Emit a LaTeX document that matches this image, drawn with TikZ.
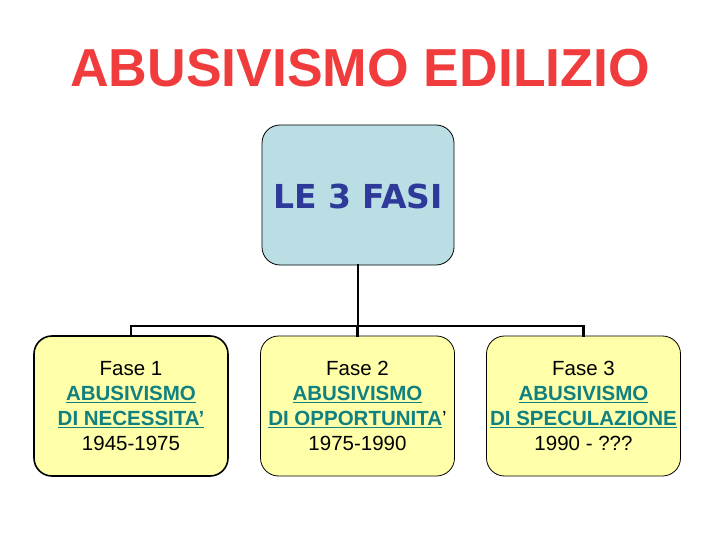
\documentclass[tikz,border=0pt]{standalone}
\usepackage{fontspec}
\setmainfont{Liberation Sans}
\newfontfamily\verdanalike{DejaVu Sans}
\definecolor{titlered}{RGB}{240,60,60}
\definecolor{topfill}{RGB}{186,222,228}
\definecolor{topblue}{RGB}{46,58,154}
\definecolor{boxyellow}{RGB}{255,255,170}
\definecolor{tealtxt}{RGB}{16,128,128}
\begin{document}
\begin{tikzpicture}[x=1pt,y=-1pt,
  topbox/.style={draw=black, line width=0.8pt, fill=topfill, rounded corners=18pt, minimum width=192pt, minimum height=140pt, inner sep=0pt},
  fasebox/.style={draw=black, line width=0.8pt, fill=boxyellow, rounded corners=18pt, minimum width=194pt, minimum height=140pt, inner sep=0pt, align=center, font=\fontsize{20.5}{25}\selectfont},
  conn/.style={line width=2.8pt, line cap=rect}]
\useasboundingbox (0,0) rectangle (720,540);
\node (title) at (360,68) {\fontsize{53.5}{60}\selectfont\bfseries\color{titlered}ABUSIVISMO EDILIZIO};
\node[topbox] (top) at (358,195) {};
\node (toptext) at (358,196) {\verdanalike\fontsize{33}{40}\selectfont\bfseries\color{topblue}LE 3 FASI};
\node[fasebox, line width=1.6pt] (f1) at (131,406) {Fase 1\\\textbf{\color{tealtxt}\underline{ABUSIVISMO}}\\\textbf{\color{tealtxt}\underline{DI NECESSITA’}}\\1945-1975};
\node[fasebox] (f2) at (357.5,406) {Fase 2\\\textbf{\color{tealtxt}\underline{ABUSIVISMO}}\\\textbf{\color{tealtxt}\underline{DI OPPORTUNITA}}’\\1975-1990};
\node[fasebox] (f3) at (583.5,406) {Fase 3\\\textbf{\color{tealtxt}\underline{ABUSIVISMO}}\\\textbf{\color{tealtxt}\underline{DI SPECULAZIONE}}\\1990 - ???};
\coordinate (bar) at (357,326);
\draw[conn] (top.south) -- (top.south |- bar);
\draw[conn] (f1.north |- bar) -- (f3.north |- bar);
\draw[conn] (f1.north |- bar) -- (f1.north);
\draw[conn] (f2.north |- bar) -- (f2.north);
\draw[conn] (f3.north |- bar) -- (f3.north);
\end{tikzpicture}
\end{document}
